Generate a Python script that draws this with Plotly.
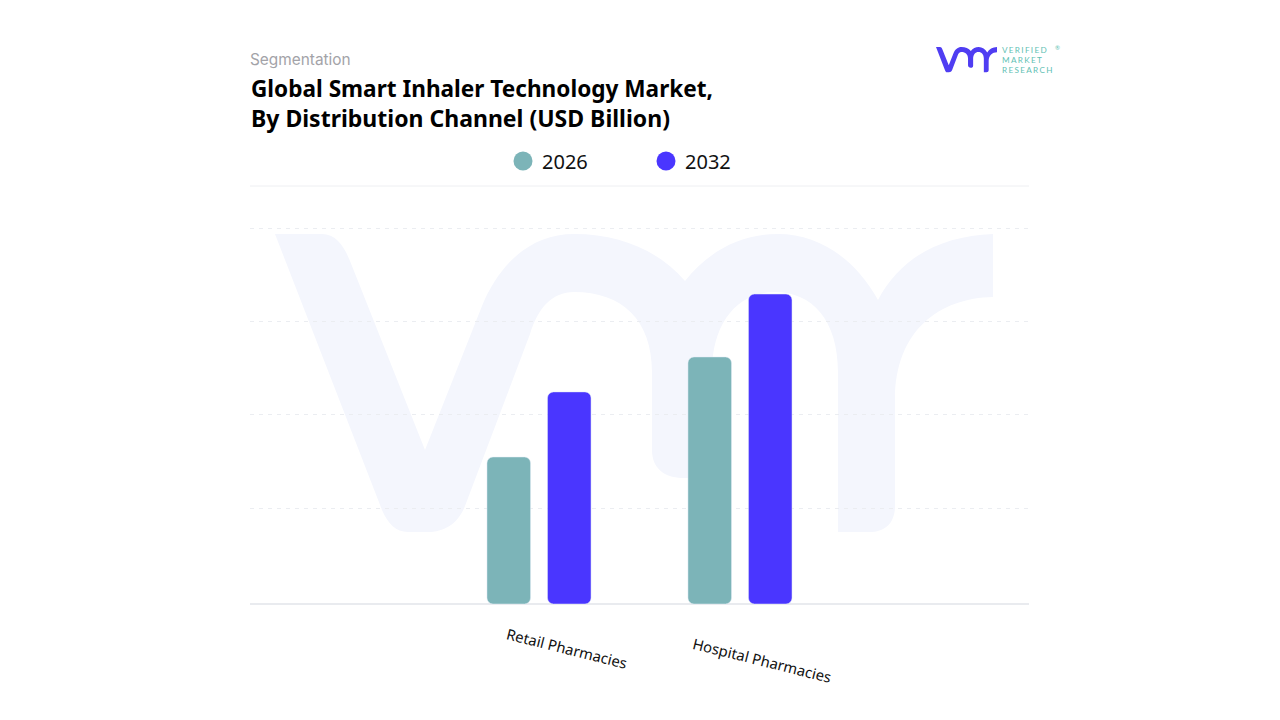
import plotly.graph_objects as go

categories = ["Retail Pharmacies", "Hospital Pharmacies"]
values_2026 = [1.565, 2.63]
values_2032 = [2.258, 3.30]
grid_vals = [1.02, 2.02, 3.01, 4.0]

TEAL = "#7cb4b8"
BLUE = "#4a36ff"
FONT = "Noto Sans"

# plot box in page pixels
L, R, T, B = 250, 1029, 186, 604


def px_x(v):
    return (v - L) / (R - L)


def px_y(v):
    return (B - v) / (B - T)


# outline of the vmr mark, in page pixels at watermark size
MARK = [
    ("M", 275, 234), ("L", 322, 234),
    ("C", 338, 234, 346, 250, 352, 266),
    ("L", 425, 450), ("L", 482, 306),
    ("C", 500, 262, 532, 234, 574, 234),
    ("C", 622, 234, 660, 252, 685, 281),
    ("C", 708, 252, 740, 234, 778, 234),
    ("C", 820, 234, 856, 260, 878, 300),
    ("C", 900, 258, 940, 236, 993, 234),
    ("L", 993, 297),
    ("C", 940, 298, 895, 330, 895, 400),
    ("L", 895, 506),
    ("C", 895, 524, 884, 532, 870, 532),
    ("L", 838, 532), ("L", 838, 372),
    ("C", 838, 320, 812, 292, 775, 292),
    ("C", 738, 292, 712, 322, 712, 372),
    ("L", 712, 454),
    ("C", 712, 470, 702, 478, 684, 478),
    ("C", 664, 478, 652, 468, 652, 450),
    ("L", 652, 372),
    ("C", 652, 320, 622, 292, 574, 292),
    ("C", 552, 292, 538, 308, 530, 334),
    ("L", 465, 506),
    ("C", 458, 524, 444, 532, 428, 532),
    ("L", 408, 532),
    ("C", 396, 532, 388, 524, 382, 510),
    ("Z",),
]


def mark_path(scale=1.0, ox=275, oy=234):
    parts = []
    for seg in MARK:
        if seg[0] == "Z":
            parts.append("Z")
            continue
        xy = seg[1:]
        coords = []
        for i in range(0, len(xy), 2):
            px = ox + (xy[i] - 275) * scale
            py = oy + (xy[i + 1] - 234) * scale
            coords.append(f"{px_x(px):.5f},{px_y(py):.5f}")
        parts.append(seg[0] + " ".join(coords))
    return " ".join(parts)


fig = go.Figure()

# an explicit base makes plotly round both ends of the bar
for name, vals, color in [("2026", values_2026, TEAL), ("2032", values_2032, BLUE)]:
    fig.add_bar(name=name, x=categories, y=vals, base=[0, 0], marker_color=color,
                showlegend=False, hoverinfo="skip")

shapes = [
    dict(type="path", path=mark_path(), xref="paper", yref="paper", layer="below",
         fillcolor="#f4f6fd", line_width=0),
    dict(type="path", path=mark_path(61 / 718, 936, 47), xref="paper", yref="paper",
         fillcolor="#4f3df2", line_width=0),
    dict(type="line", xref="paper", yref="paper", x0=0, x1=1, y0=1, y1=1, layer="below",
         line=dict(color="#eeeff2", width=1)),
]
for x, color in [(523, TEAL), (666, BLUE)]:
    shapes.append(dict(type="circle", xref="paper", yref="paper", fillcolor=color, line_width=0,
                       x0=px_x(x - 9.5), x1=px_x(x + 9.5), y0=px_y(170.5), y1=px_y(151.5)))


def note(text, x, y, size, color="#000000", weight="normal", anchor="left", family=FONT):
    return dict(text=text, xref="paper", yref="paper", x=px_x(x), y=px_y(y), xanchor=anchor,
                yanchor="middle", showarrow=False,
                font=dict(family=family, size=size, color=color, weight=weight))


annotations = [
    note("Segmentation", 248, 59.5, 15.4, "#a3a3a8", family="Inter"),
    note("Global Smart Inhaler Technology Market,", 249, 88.5, 22.6, weight="bold"),
    note("By Distribution Channel (USD Billion)", 249, 117.5, 23, weight="bold"),
    note("2026", 540, 161.5, 20, "#111111"),
    note("2032", 683, 162, 20, "#111111"),
    note("VERIFIED", 1000, 50.5, 8.2, "#5fbfb4", family="Lato"),
    note("MARKET", 1000, 60, 8.2, "#5fbfb4", family="Lato"),
    note("RESEARCH", 1000, 69.5, 8.2, "#5fbfb4", family="Lato"),
    note("®", 1053, 47.5, 6, "#5fbfb4", family="Lato"),
]

# slanted category labels sit right of and below the group centre
for cat, shift, y, in zip(categories, [27.5, 22], [648, 660]):
    annotations.append(dict(text=cat, x=cat, xref="x", xshift=shift, yref="paper", y=px_y(y),
                            showarrow=False, textangle=14, xanchor="center", yanchor="middle",
                            font=dict(family=FONT, size=14.8, color="#111111")))

fig.update_layout(
    width=1280, height=720,
    margin=dict(l=L, r=1280 - R, t=T, b=720 - B),
    paper_bgcolor="white", plot_bgcolor="rgba(0,0,0,0)",
    barmode="group", bargap=0.398, bargroupgap=0.28, barcornerradius=6,
    shapes=shapes, annotations=annotations, showlegend=False,
)
fig.update_xaxes(type="category", range=[-1.438, 2.438], showticklabels=False, ticks="",
                 showgrid=False, zeroline=False, showline=False)
fig.update_yaxes(range=[0, 4.45], tickvals=grid_vals, showticklabels=False, ticks="",
                 showgrid=True, gridcolor="#ebedf1", griddash="4px,5px", gridwidth=1,
                 zeroline=True, zerolinecolor="#e9ebef", zerolinewidth=2, showline=False)

# plotly has no letter spacing, the logo words need it
post = """
document.body.style.margin = '0';
setTimeout(function () {
  document.querySelectorAll('.annotation-text').forEach(function (t) {
    if (['VERIFIED', 'MARKET', 'RESEARCH'].indexOf(t.textContent) < 0) return;
    var box = t.getBBox();
    t.setAttribute('text-anchor', 'start');
    t.setAttribute('x', box.x);
    t.style.textAnchor = 'start';
    t.style.letterSpacing = '1.3px';
  });
}, 30);
"""
fig.write_html("out.html", post_script=post, config={"displayModeBar": False})
